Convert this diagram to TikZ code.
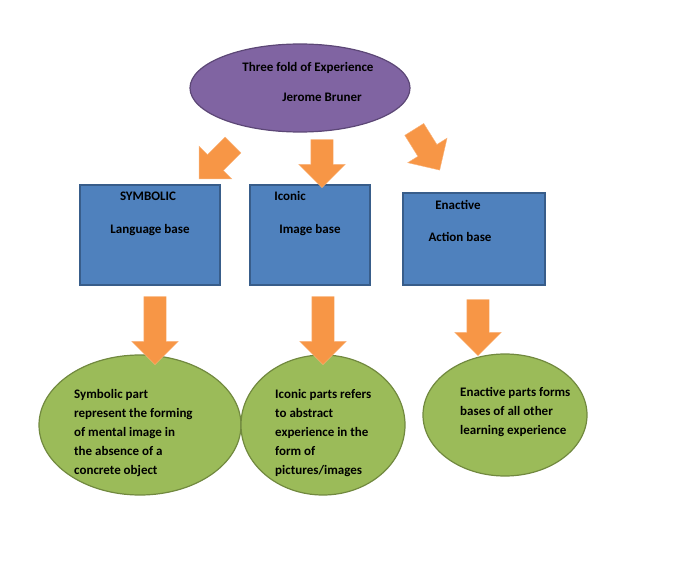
\documentclass[tikz,border=0pt]{standalone}
\usepackage{fontspec}
\setmainfont{Carlito}
\usetikzlibrary{shapes.geometric,shapes.arrows}
\definecolor{purp}{HTML}{8064A2}
\definecolor{purpd}{HTML}{5C4776}
\definecolor{blu}{HTML}{4F81BD}
\definecolor{blud}{HTML}{385D8A}
\definecolor{grn}{HTML}{9BBB59}
\definecolor{grnd}{HTML}{71893F}
\definecolor{orng}{HTML}{F79646}
\begin{document}
\begin{tikzpicture}[x=1pt,y=-1pt,
  box/.style={draw=blud,line width=1.2pt,fill=blu,minimum width=140pt,minimum height=100pt,inner sep=0pt},
  oval/.style={ellipse,draw=grnd,line width=1.2pt,fill=grn,inner sep=0pt},
  arr/.style={single arrow,fill=orng,draw=orng!70!white,minimum height=48pt,single arrow head extend=12pt,inner xsep=0pt,inner ysep=11pt},
  lbl/.style={font=\bfseries\fontsize{13}{19}\selectfont,align=left,inner sep=0pt}]
\useasboundingbox (0,0) rectangle (696,572);
\node[ellipse,draw=purpd,line width=1.2pt,fill=purp,minimum width=220pt,minimum height=88pt] (top) at (300,88) {};
\node[lbl] at (308,68) {Three fold of Experience};
\node[lbl] at (322,97) {Jerome Bruner};
\node[box] (sym) at (150,235) {};
\node[box,minimum width=120pt] (ico) at (310,235) {};
\node[box,minimum width=142pt,minimum height=92pt] (ena) at (474,239) {};
\node[lbl] at (148,196) {SYMBOLIC};
\node[lbl] at (150,230) {Language base};
\node[lbl] at (290,196) {Iconic};
\node[lbl] at (310,230) {Image base};
\node[lbl] at (458,205) {Enactive};
\node[lbl] at (460,237) {Action base};
\node[oval,minimum width=202pt,minimum height=140pt] (o1) at (140,425) {};
\node[oval,minimum width=164pt,minimum height=140pt] (o2) at (323,425) {};
\node[oval,minimum width=164pt,minimum height=122pt] (o3) at (505,415) {};
\node[lbl,anchor=west] at (74,433) {Symbolic part\\represent the forming\\of mental image in\\the absence of a\\concrete object};
\node[lbl,anchor=west] at (275,433) {Iconic parts refers\\to abstract\\experience in the\\form of\\pictures/images};
\node[lbl,anchor=west] at (460,412) {Enactive parts forms\\bases of all other\\learning experience};
\node[arr,rotate=-135] (a1) at (220,158) {};
\node[arr,rotate=-90] (a2) at (322,158) {};
\node[arr,rotate=-58] (a3) at (424,145) {};
\node[arr,rotate=-90,minimum height=68pt] (b1) at (155,325) {};
\node[arr,rotate=-90,minimum height=68pt] (b2) at (323,325) {};
\node[arr,rotate=-90,minimum height=56pt] (b3) at (478,322) {};
\end{tikzpicture}
\end{document}
